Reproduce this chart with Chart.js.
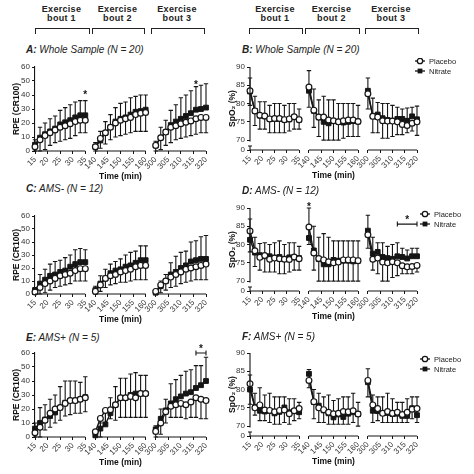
<!DOCTYPE html>
<html>
<head>
<meta charset="utf-8">
<script src="https://cdn.jsdelivr.net/npm/chart.js@4"></script>
<style>
body { margin: 0; background: #fff; font-family: "Liberation Sans", Arial, sans-serif; }
#fig { position: relative; width: 474px; height: 474px; overflow: hidden; background: #fff; }
canvas { position: absolute; }
.hd { position: absolute; width: 70px; margin-left: -35px; font-weight: bold; font-size: 9px; line-height: 9px; text-align: center; color: #222; letter-spacing: 0.3px; }
.br { position: absolute; border: 1.4px solid #222; border-bottom: none; height: 5px; }
.pt { position: absolute; font-style: italic; font-size: 10px; line-height: 12px; color: #222; white-space: nowrap; }
</style>
</head>
<body>
<div id="fig"></div>
<script>
// time points (min) of the three exercise bouts
const times = [15, 17, 19, 21, 23, 25, 27, 29, 31, 33, 35,
  140, 142, 144, 146, 148, 150, 152, 154, 156, 158, 160,
  300, 302, 304, 306, 308, 310, 312, 314, 316, 318, 320];
const boutStarts = [15, 140, 300];
const timeTicks = [15, 20, 25, 30, 35, 140, 145, 150, 155, 160, 300, 305, 310, 315, 320];
const rpeTicks = [0, 10, 20, 30, 40, 50, 60];
const spo2Ticks = [0, 70, 75, 80, 85, 90];
const bouts = ['Exercise bout 1', 'Exercise bout 2', 'Exercise bout 3'];
const seriesNames = ['Placebo', 'Nitrate'];

// A: RPE, whole sample (nitrate SD drawn up, placebo SD drawn down)
const A_placebo = [3, 8, 11, 13, 15, 17, 18, 19.5, 21, 22, 22,
  3, 9, 13, 17, 20, 22, 23, 24, 26, 27, 27.5,
  4, 9.5, 13.5, 17, 18, 19.5, 20.5, 21.5, 23, 24, 24];
const A_nitrate = [4.5, 9.5, 12, 14, 16, 19, 20.5, 22, 24, 25.5, 25.5,
  3, 7.5, 13, 17, 21, 23, 24, 26, 28, 28.5, 29.5,
  4, 9.5, 13.5, 18.5, 21, 23, 25, 27, 29.5, 30, 31];
const A_nitrateHi = [8, 17, 20, 23, 25, 29, 31, 33, 35, 36, 36,
  6, 14, 21, 26, 31, 34, 35, 38, 39, 40, 40,
  7, 17, 22, 29, 33, 38, 40, 43, 46, 47, 48];
const A_placeboLo = [0, 0, 1, 4, 6, 7, 8, 9, 11, 13, 13,
  0, 2, 5, 8, 10, 11, 12, 13, 14, 14, 14,
  0, 1, 4, 6, 8, 9, 10, 11, 12, 13, 13];

// B: SpO2, whole sample
const B_placebo = [83.5, 78.0, 76.8, 76.6, 75.8, 75.9, 75.9, 75.6, 75.8, 76.4, 75.6,
  84.5, 78.2, 76.3, 76.3, 75.5, 75.3, 75.0, 75.3, 75.5, 75.5, 75.1,
  82.7, 76.5, 76.3, 75.3, 75.2, 75.2, 75.0, 74.3, 74.0, 74.6, 75.0];
const B_nitrate = [83.3, 78.0, 76.7, 76.5, 75.8, 75.8, 75.8, 75.6, 75.7, 76.3, 75.6,
  83.5, 78.0, 76.2, 75.0, 74.6, 75.2, 75.0, 74.8, 75.0, 75.2, 75.1,
  83.5, 76.5, 77.0, 76.0, 75.5, 75.3, 75.8, 75.8, 75.3, 76.5, 75.7];
const B_nitrateHi = [87, 82, 80.5, 80.5, 79.5, 80, 80, 79.5, 80, 80, 78.5,
  89, 84, 81, 82, 81, 81, 80, 80, 80, 80, 79.5,
  87, 81.5, 80.3, 80, 80, 79.5, 79, 78.5, 78.8, 79, 79.3];
const B_placeboLo = [79.5, 74, 73, 73, 72, 72, 72, 72, 72.5, 73, 73,
  79, 73.5, 71, 70, 70, 70, 70, 70.5, 71, 71, 71,
  78.5, 72, 72, 70.5, 70.5, 71, 71.5, 71.5, 72, 72.5, 71.3];

// C: RPE, AMS-
const C_placebo = [1.5, 5, 8, 10, 12, 14, 15, 16, 18, 19.5, 19.5,
  2, 7, 12, 14, 15, 17, 18, 19, 21, 22, 22,
  2, 7, 10, 13, 15, 17, 19, 20, 21, 22, 23];
const C_nitrate = [3, 8, 11, 14, 15, 17, 18, 21, 23, 24.5, 24.5,
  3, 8, 12, 16, 18, 19, 21, 22, 24, 26, 26,
  1, 6, 10, 15, 17, 20, 22, 25, 26, 27, 27];
const C_nitrateHi = [5, 15, 19, 23, 25, 26, 28, 30, 34, 35, 34,
  6, 14, 19, 23, 25, 27, 30, 32, 33, 37, 37,
  3, 10, 15, 24, 29, 32, 33, 40, 41, 44, 45];
const C_placeboLo = [0, 0, 1, 3, 5, 6, 7, 8, 10, 10, 10,
  0, 2, 5, 7, 8, 9, 9, 10, 11, 11, 11,
  0, 1, 3, 5, 6, 8, 9, 10, 11, 11, 11];

// D: SpO2, AMS-
const D_placebo = [83.7, 78.3, 76.5, 77.0, 76.0, 76.3, 76.1, 76.0, 75.9, 76.6, 76.1,
  84.8, 77.7, 76.2, 75.8, 75.3, 75.0, 75.2, 75.8, 75.8, 75.8, 75.6,
  82.7, 76.0, 76.3, 75.2, 75.0, 75.3, 75.0, 74.2, 73.9, 74.0, 74.3];
const D_nitrate = [81.3, 77.8, 77.1, 76.8, 76.8, 76.4, 76.6, 76.1, 76.5, 76.5, 76.3,
  81.8, 78.4, 76.0, 74.6, 74.6, 75.8, 75.6, 75.6, 75.6, 75.4, 75.6,
  83.8, 77.5, 78.0, 76.6, 76.3, 76.1, 76.8, 76.6, 76.2, 76.8, 76.8];
const D_nitrateHi = [87, 82, 80.3, 80.5, 80, 80.5, 81, 80, 80.5, 80.5, 79.5,
  90, 85, 82, 83, 82, 81, 81, 81, 81, 81, 81,
  88, 82, 80.5, 80.5, 79.5, 80, 80.5, 79, 78.5, 79, 79];
const D_placeboLo = [78, 74, 73, 72.5, 72.5, 72.5, 72, 72, 72.5, 73, 73,
  80, 73, 70, 70, 70, 70, 70, 70, 70, 70, 70,
  79, 73, 72, 70, 70, 71, 71.5, 72, 72, 72, 72.5];

// E: RPE, AMS+
const E_placebo = [3, 7, 12, 17, 20, 21, 24, 26, 26, 27, 28,
  3.8, 13.3, 19, 19.5, 23, 28, 28, 29, 28, 31, 31,
  4, 10, 18, 22, 23, 24, 23, 25, 28, 27, 26];
const E_nitrate = [6, 10, 12.5, 15, 17.5, 21, 24.5, 26, 26, 27, 28.5,
  1.2, 6, 9, 17, 23, 28, 28, 30, 31, 31, 31,
  5.5, 13, 19, 24, 27, 29, 31, 32, 35, 37, 40];
const E_nitrateHi = [10, 21, 23, 27, 30, 36, 40, 40, 40, 39, 43,
  4, 10, 19, 28, 36, 42, 42, 45, 46, 44, 44,
  8, 20, 27, 38, 41, 44, 47, 48, 51, 51, 57];
const E_placeboLo = [0, 0, 5, 7, 10, 12, 15, 16, 17, 17, 18,
  0, 0, 10, 13, 12, 14, 14, 14, 14, 14, 14,
  0, 2, 10, 14, 14, 14, 13, 14, 14, 13, 13];

// F: SpO2, AMS+
const F_placebo = [81.6, 75.0, 75.8, 74.4, 74.3, 73.9, 74.3, 74.4, 73.4, 74.2, 74.8,
  82.5, 76.7, 75.0, 74.5, 73.8, 73.4, 73.5, 74.0, 73.9, 74.2, 73.3,
  82.5, 75.8, 74.8, 73.5, 74.0, 73.5, 73.8, 73.2, 73.8, 74.6, 74.8];
const F_nitrate = [80.0, 75.2, 74.2, 74.0, 74.2, 73.5, 73.9, 75.1, 73.8, 74.1, 73.8,
  84.3, 76.6, 75.6, 74.3, 73.5, 72.4, 73.2, 72.5, 73.4, 73.8, 73.3,
  82.0, 74.2, 74.1, 73.6, 73.6, 73.3, 73.4, 72.8, 72.8, 74.9, 73.0];
const F_nitrateHi = [84, 79, 80.5, 78.5, 79, 78, 78, 78, 77.5, 77.5, 76.5,
  85.5, 80, 79, 78, 78.5, 77, 77.5, 78, 78, 79, 76.5,
  85.7, 78.5, 78, 78, 79, 77.5, 76.5, 76.5, 77.5, 78, 78];
const F_placeboLo = [76, 73, 71.5, 71.5, 71, 70.5, 70.5, 71, 70.5, 71.5, 72,
  80.5, 72, 71, 71, 70.5, 70.5, 70.5, 70.5, 70.5, 71, 70,
  78, 71, 71.5, 71, 71, 71, 71, 71, 71, 72, 71];

// significance marks (time, value)
const sigStars = [
  { panel: 'A', time: 35, value: 41 },
  { panel: 'A', time: 316, value: 48.5 },
  { panel: 'D', time: 140, value: 90.8 }
];
const sigBrackets = [
  { panel: 'D', from: 312, to: 320, value: 85.6 },
  { panel: 'E', from: 316, to: 320, value: 60 }
];

const panels = [
  { tag: 'A', title: 'Whole Sample (N = 20)', kind: 'rpe', col: 0, top: 67, bottom: 151, titleY: 50,
    placebo: A_placebo, nitrate: A_nitrate, hi: A_nitrateHi, lo: A_placeboLo },
  { tag: 'B', title: 'Whole Sample (N = 20)', kind: 'spo2', col: 1, top: 67, bottom: 150, titleY: 50, legend: [420, 61],
    placebo: B_placebo, nitrate: B_nitrate, hi: B_nitrateHi, lo: B_placeboLo },
  { tag: 'C', title: 'AMS- (N = 12)', kind: 'rpe', col: 0, top: 216, bottom: 294, titleY: 189,
    placebo: C_placebo, nitrate: C_nitrate, hi: C_nitrateHi, lo: C_placeboLo },
  { tag: 'D', title: 'AMS- (N = 12)', kind: 'spo2', col: 1, top: 208, bottom: 291, titleY: 191, legend: [425, 214],
    placebo: D_placebo, nitrate: D_nitrate, hi: D_nitrateHi, lo: D_placeboLo },
  { tag: 'E', title: 'AMS+ (N = 5)', kind: 'rpe', col: 0, top: 353, bottom: 437, titleY: 338,
    placebo: E_placebo, nitrate: E_nitrate, hi: E_nitrateHi, lo: E_placeboLo },
  { tag: 'F', title: 'AMS+ (N = 5)', kind: 'spo2', col: 1, top: 353, bottom: 436, titleY: 337, legend: [425, 359],
    placebo: F_placebo, nitrate: F_nitrate, hi: F_nitrateHi, lo: F_placeboLo }
];

const fig = document.getElementById('fig');
Chart.defaults.font.family = '"Liberation Sans", Arial, sans-serif';
Chart.defaults.color = '#333';

const STEP = 12;          // x units from one bout start to the next
const SPO2_BREAK = 67.3;  // where the "0" of the broken SpO2 axis sits
const INK = '#151515';

function pos(t) {
  const s = t >= boutStarts[2] ? 2 : t >= boutStarts[1] ? 1 : 0;
  return s * STEP + (t - boutStarts[s]) / 2;
}

function series(vals) {
  const out = [];
  times.forEach((t, i) => {
    if (i > 0 && i % 11 === 0) out.push({ x: pos(times[i - 1]) + 1, y: null });
    out.push({ x: pos(t), y: vals[i] });
  });
  return out;
}

// header: exercise bout labels + brackets over each column
[[35, 88], [92, 143], [151, 203], [249, 301], [305, 358], [365, 417]].forEach((b, i) => {
  const words = bouts[i % 3].split(' ');
  const h = document.createElement('div');
  h.className = 'hd';
  h.style.left = ((b[0] + b[1]) / 2) + 'px';
  h.style.top = '5px';
  h.innerHTML = words[0] + '<br>' + words.slice(1).join(' ');
  fig.appendChild(h);
  const br = document.createElement('div');
  br.className = 'br';
  br.style.left = b[0] + 'px';
  br.style.top = '28px';
  br.style.width = (b[1] - b[0]) + 'px';
  fig.appendChild(br);
});

function whisker(ctx, x, y0, y1) {
  ctx.beginPath();
  ctx.moveTo(x, y0); ctx.lineTo(x, y1);
  ctx.moveTo(x - 2.2, y1); ctx.lineTo(x + 2.2, y1);
  ctx.stroke();
}

function extras(p, L, T) {
  const spo2 = p.kind === 'spo2';
  return {
    id: 'extras' + p.tag,
    beforeDatasetsDraw(chart) {
      const { ctx, scales: { x, y } } = chart;
      ctx.save();
      ctx.strokeStyle = INK;
      ctx.lineWidth = 1.1;
      times.forEach((t, i) => {
        const px = x.getPixelForValue(pos(t));
        whisker(ctx, px, y.getPixelForValue(p.nitrate[i]), y.getPixelForValue(p.hi[i]));
        whisker(ctx, px, y.getPixelForValue(p.placebo[i]), y.getPixelForValue(Math.max(p.lo[i], spo2 ? 70 : 0)));
      });
      ctx.restore();
    },
    afterDraw(chart) {
      const { ctx, chartArea, scales: { x, y } } = chart;
      ctx.save();
      ctx.strokeStyle = INK;
      ctx.fillStyle = INK;
      ctx.lineWidth = 1.1;
      // broken x axis, one piece per bout
      ctx.beginPath();
      for (let s = 0; s < 3; s++) {
        ctx.moveTo(x.getPixelForValue(s * STEP), chartArea.bottom);
        ctx.lineTo(x.getPixelForValue(s * STEP + 10), chartArea.bottom);
      }
      ctx.stroke();
      if (spo2) {
        // broken y axis: 70-90 plus a short stub at 0
        const xl = chartArea.left;
        const y0 = y.getPixelForValue(SPO2_BREAK);
        ctx.beginPath();
        ctx.moveTo(xl, y.getPixelForValue(90));
        ctx.lineTo(xl, y.getPixelForValue(69.6));
        ctx.moveTo(xl, y0);
        ctx.lineTo(xl, y0 - 4);
        ctx.moveTo(xl - 2, y0 - 4);
        ctx.lineTo(xl + 2, y0 - 4);
        ctx.stroke();
      }
      // legend
      if (p.legend) {
        const lx = p.legend[0] - L;
        let ly = p.legend[1] - T;
        ctx.font = '7.5px "Liberation Sans", Arial, sans-serif';
        ctx.textBaseline = 'middle';
        ctx.textAlign = 'left';
        seriesNames.forEach((name, k) => {
          ctx.beginPath();
          ctx.lineWidth = 1.3;
          ctx.moveTo(lx - 5, ly); ctx.lineTo(lx + 5, ly);
          ctx.stroke();
          if (k === 0) {
            ctx.beginPath();
            ctx.arc(lx, ly, 2.7, 0, Math.PI * 2);
            ctx.fillStyle = '#fff';
            ctx.fill();
            ctx.stroke();
          } else {
            ctx.fillStyle = INK;
            ctx.fillRect(lx - 2.4, ly - 2.4, 4.8, 4.8);
          }
          ctx.fillStyle = '#222';
          ctx.fillText(name, lx + 9, ly + 0.5);
          ly += 10;
        });
      }
      // significance
      ctx.fillStyle = INK;
      ctx.font = 'bold 10px "Liberation Sans", Arial, sans-serif';
      ctx.textAlign = 'center';
      ctx.textBaseline = 'middle';
      sigStars.filter(s => s.panel === p.tag).forEach(s => {
        ctx.fillText('*', x.getPixelForValue(pos(s.time)), y.getPixelForValue(s.value) + 2);
      });
      ctx.lineWidth = 1.1;
      sigBrackets.filter(s => s.panel === p.tag).forEach(s => {
        const x1 = x.getPixelForValue(pos(s.from)), x2 = x.getPixelForValue(pos(s.to));
        const yy = y.getPixelForValue(s.value);
        ctx.beginPath();
        ctx.moveTo(x1, yy); ctx.lineTo(x2, yy);
        ctx.moveTo(x1, yy - 2.5); ctx.lineTo(x1, yy + 2.5);
        ctx.moveTo(x2, yy - 2.5); ctx.lineTo(x2, yy + 2.5);
        ctx.stroke();
        ctx.fillText('*', (x1 + x2) / 2, yy - 4);
      });
      ctx.restore();
    }
  };
}

panels.forEach(p => {
  const spo2 = p.kind === 'spo2';
  const L = p.col ? 222 : 0, W = p.col ? 252 : 237;
  const T = p.top - 9, H = p.bottom + 31 - T;

  const t = document.createElement('div');
  t.className = 'pt';
  t.style.left = (p.col ? 242 : 26) + 'px';
  t.style.top = (p.titleY - 6) + 'px';
  t.innerHTML = '<b>' + p.tag + ':</b> ' + p.title;
  fig.appendChild(t);

  const c = document.createElement('canvas');
  c.width = W; c.height = H;
  c.style.left = L + 'px';
  c.style.top = T + 'px';
  fig.appendChild(c);

  const yTicks = spo2 ? spo2Ticks : rpeTicks;
  new Chart(c, {
    type: 'line',
    data: {
      datasets: [
        { label: seriesNames[0], data: series(p.placebo), order: 0, clip: false,
          borderColor: INK, borderWidth: 1.4, pointStyle: 'circle', pointRadius: 2.9,
          pointBackgroundColor: '#fff', pointBorderColor: INK, pointBorderWidth: 1.2 },
        { label: seriesNames[1], data: series(p.nitrate), order: 1, clip: false,
          borderColor: INK, borderWidth: 1.4, pointStyle: 'rect', pointRadius: 3.4,
          pointBackgroundColor: INK, pointBorderColor: INK, pointBorderWidth: 1 }
      ]
    },
    options: {
      responsive: false,
      animation: false,
      events: [],
      layout: { padding: { top: 9, right: p.col ? 57 : 31, left: 0, bottom: 0 } },
      plugins: { legend: { display: false }, tooltip: { enabled: false } },
      scales: {
        x: {
          type: 'linear', min: 0, max: 34,
          afterBuildTicks: s => { s.ticks = timeTicks.map(v => ({ value: pos(v) })); },
          afterFit: s => { s.height = 31; },
          ticks: { autoSkip: false, minRotation: 45, maxRotation: 45, padding: 1,
                   font: { size: 8 }, color: '#333', callback: (v, i) => String(timeTicks[i]) },
          grid: { drawOnChartArea: false, tickLength: 3, color: INK },
          border: { display: false },
          title: { display: true, text: 'Time (min)', color: '#111',
                   font: { size: 8.5, weight: 'bold' }, padding: { top: 0, bottom: 0 } }
        },
        y: {
          type: 'linear', min: spo2 ? SPO2_BREAK : 0, max: spo2 ? 90 : 60,
          afterBuildTicks: s => { s.ticks = yTicks.map(v => ({ value: spo2 && v === 0 ? SPO2_BREAK : v })); },
          afterFit: s => { s.width = spo2 ? 28 : 35; },
          ticks: { autoSkip: false, padding: 2, font: { size: 8 }, color: '#333',
                   callback: (v, i) => String(yTicks[i]) },
          grid: { drawOnChartArea: false, tickLength: 3, color: INK },
          border: { display: !spo2, color: INK, width: 1.1 },
          title: { display: true, text: spo2 ? 'SpO₂ (%)' : 'RPE (CR100)', color: '#111',
                   font: { size: 8.5, weight: 'bold' }, padding: { top: spo2 ? 5.3 : 11.3, bottom: 0 } }
        }
      }
    },
    plugins: [extras(p, L, T)]
  });
});
</script>
</body>
</html>
